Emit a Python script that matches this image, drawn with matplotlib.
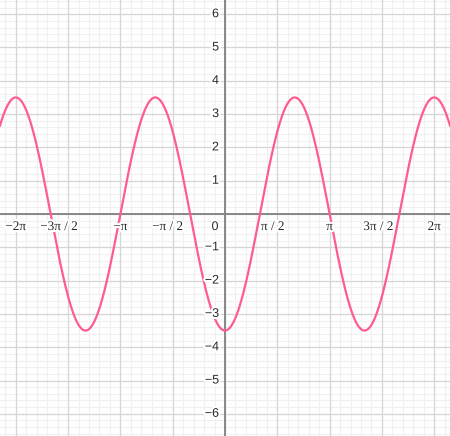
import numpy as np
import matplotlib
matplotlib.use('Agg')
import matplotlib.pyplot as plt
import matplotlib.patheffects as pe

# curve: y = amplitude * cos(freq * x + phase)
amplitude = 3.5
freq = 1.5
phase = np.pi

# tick labels
x_tick_vals = [-2, -1.5, -1, -0.5, 0.5, 1, 1.5, 2]  # multiples of pi
x_tick_labels = ['\u22122\u03c0', '\u22123\u03c0 / 2', '\u2212\u03c0', '\u2212\u03c0 / 2',
                 '\u03c0 / 2', '\u03c0', '3\u03c0 / 2', '2\u03c0']
y_tick_vals = [-6, -5, -4, -3, -2, -1, 1, 2, 3, 4, 5, 6]

# label nudges in pixels (layout only)
x_label_shift = [0, -9, 0, -5, -4.5, 0, -3.5, 0]

px = 33.3  # pixels per unit
xmin, xmax = -225 / px, 225 / px
ymin, ymax = -222 / px, 214 / px

fig = plt.figure(figsize=(4.5, 4.36), dpi=100)
ax = fig.add_axes([0, 0, 1, 1])
ax.set_xlim(xmin, xmax)
ax.set_ylim(ymin, ymax)
ax.axis('off')

# minor grid
for v in np.arange(-30, 31) * np.pi / 10:
    ax.axvline(v, color='#f0f0f0', lw=0.8, zorder=0)
for v in np.arange(-40, 41) * 0.2:
    ax.axhline(v, color='#f0f0f0', lw=0.8, zorder=0)
# major grid
for v in np.arange(-6, 7) * np.pi / 2:
    ax.axvline(v, color='#d6d6d6', lw=0.9, zorder=1)
for v in range(-7, 8):
    ax.axhline(v, color='#d6d6d6', lw=0.9, zorder=1)
# axes
ax.axhline(0, color='#808080', lw=1.3, zorder=2)
ax.axvline(0, color='#808080', lw=1.3, zorder=2)

xs = np.linspace(xmin, xmax, 2000)
ax.plot(xs, amplitude * np.cos(freq * xs + phase), color='#ff5c8d', lw=1.6, zorder=3)

halo = [pe.withStroke(linewidth=3, foreground='white')]
fs = 9
sans = ['Liberation Sans', 'DejaVu Sans']
serif = ['Liberation Serif', 'DejaVu Serif']
for v, lab, sh in zip(x_tick_vals, x_tick_labels, x_label_shift):
    ax.text(v * np.pi + sh / px, -13 / px, lab, ha='center', va='center', fontsize=9.5,
            family=serif, color='#2a2a2a', path_effects=halo, zorder=4)
ax.text(-10 / px, -13 / px, '0', ha='center', va='center', fontsize=fs,
        family=sans, color='#2a2a2a', path_effects=halo, zorder=4)
for v in y_tick_vals:
    lab = str(v) if v > 0 else '\u2212' + str(-v)
    ax.text(-6 / px, v, lab, ha='right', va='center', fontsize=fs,
            family=sans, color='#2a2a2a', path_effects=halo, zorder=4)

fig.savefig('out.png', dpi=100)
